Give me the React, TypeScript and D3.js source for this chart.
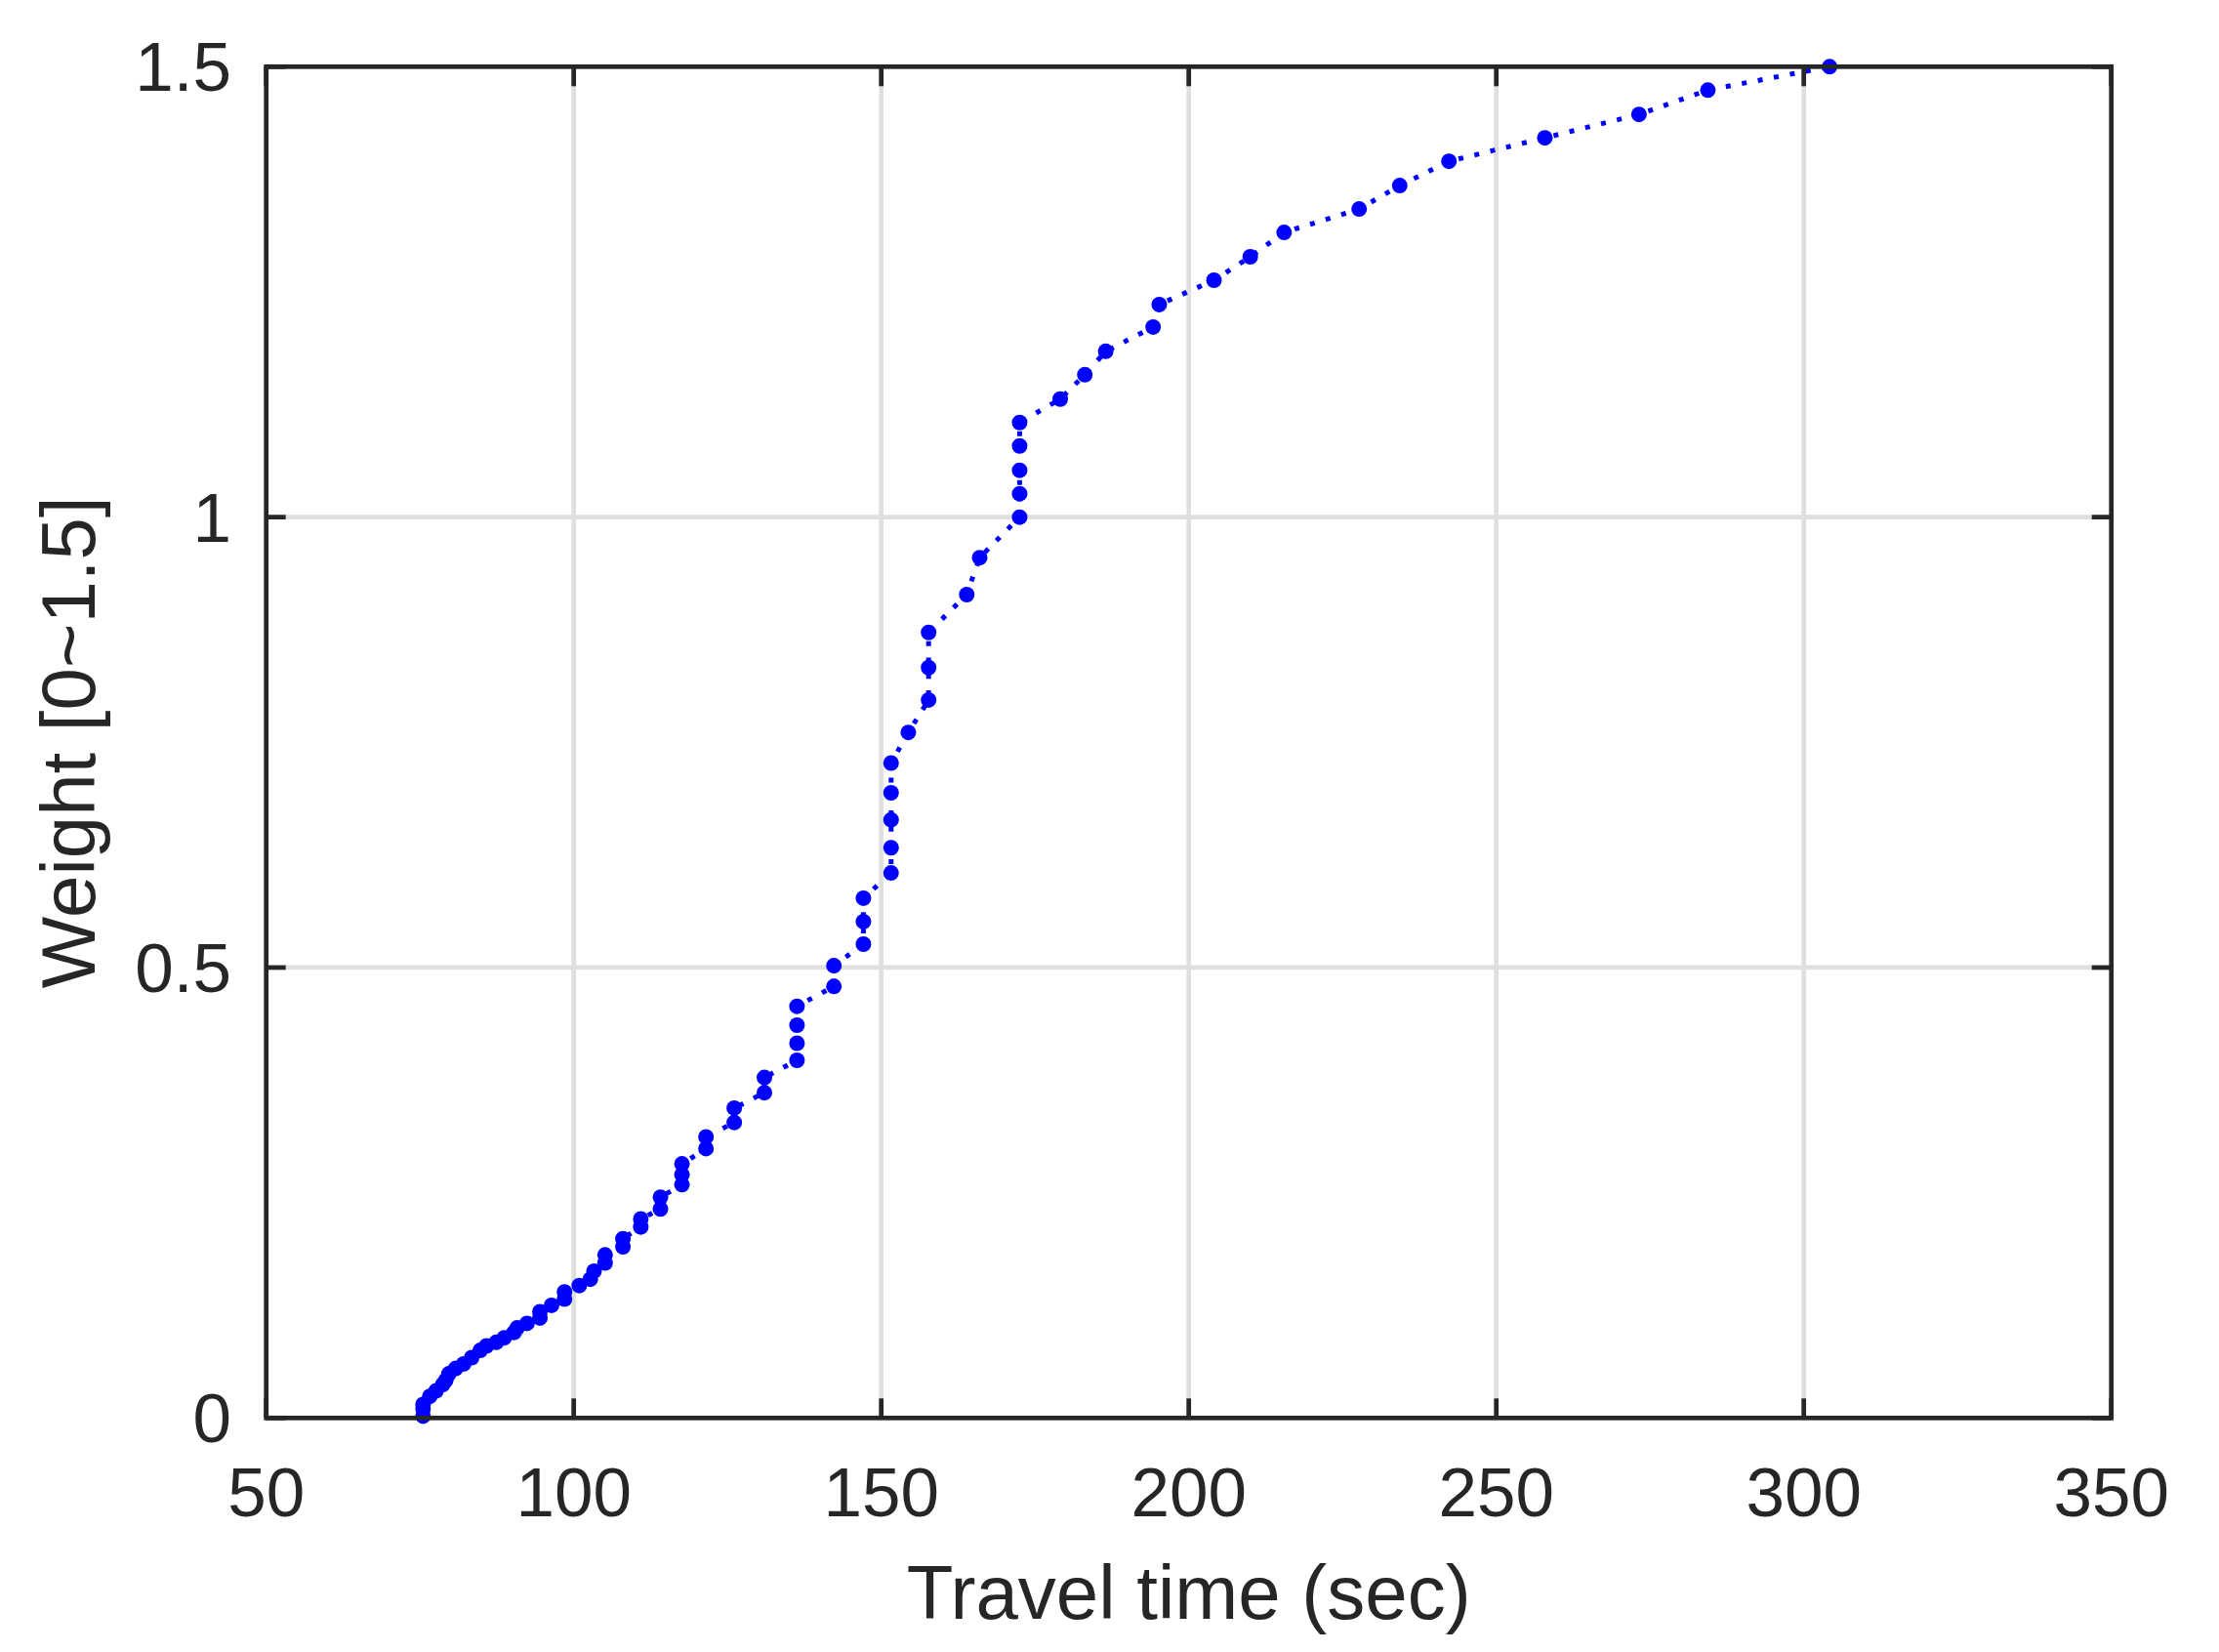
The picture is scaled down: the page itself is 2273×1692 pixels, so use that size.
import * as d3 from 'd3';

// Travel time (sec) of each sample, sorted
const travelTime = [
  75.5, 75.5, 75.5, 76.6, 77.6, 78.7, 79.2, 79.7, 80.8, 82.1,
  83.4, 84.8, 85.8, 87.4, 88.7, 90.3, 90.8, 92.4, 94.5, 94.5,
  96.4, 98.5, 98.5, 100.9, 102.7, 103.3, 105.1, 105.1, 108.0, 108.0,
  110.9, 110.9, 114.1, 114.1, 117.6, 117.6, 117.6, 121.5, 121.5, 126.1,
  126.1, 131.0, 131.0, 136.3, 136.3, 136.3, 136.3, 142.3, 142.3, 147.1,
  147.1, 147.1, 151.6, 151.6, 151.6, 151.6, 151.6, 154.4, 157.7, 157.7,
  157.7, 163.9, 166.0, 172.5, 172.5, 172.5, 172.5, 172.5, 179.1, 183.1,
  186.5, 194.2, 195.2, 204.1, 210.0, 215.5, 227.7, 234.3, 242.3, 257.9,
  273.2, 284.4, 304.2,
];

// Cumulative weight for each sample
const weight = [
  0.002, 0.010, 0.015, 0.024, 0.030, 0.037, 0.042, 0.049, 0.055, 0.060,
  0.067, 0.075, 0.080, 0.084, 0.089, 0.095, 0.100, 0.105, 0.111, 0.118,
  0.125, 0.132, 0.140, 0.147, 0.154, 0.163, 0.172, 0.181, 0.190, 0.199,
  0.212, 0.221, 0.232, 0.245, 0.259, 0.270, 0.282, 0.299, 0.312, 0.328,
  0.344, 0.361, 0.378, 0.397, 0.416, 0.436, 0.457, 0.479, 0.502, 0.526,
  0.551, 0.577, 0.605, 0.633, 0.664, 0.694, 0.727, 0.761, 0.797, 0.833,
  0.872, 0.914, 0.955, 1.000, 1.026, 1.052, 1.079, 1.105, 1.131, 1.158,
  1.184, 1.211, 1.236, 1.263, 1.289, 1.316, 1.342, 1.368, 1.395, 1.421,
  1.447, 1.474, 1.500,
];

const xTicks = [50, 100, 150, 200, 250, 300, 350];
const yTicks = [0, 0.5, 1, 1.5];
const yTickLabels = ['0', '0.5', '1', '1.5'];

const W = 2273;
const H = 1692;
const margin = { left: 272.7, right: W - 2162.7, top: 68.3, bottom: H - 1452.3 };
const axisColor = '#262626';
const font = 'Arial, "Liberation Sans", Helvetica, sans-serif';

export default function App() {
  const x = d3.scaleLinear().domain([50, 350]).range([margin.left, W - margin.right]);
  const y = d3.scaleLinear().domain([0, 1.5]).range([H - margin.bottom, margin.top]);

  const points = travelTime.map((t, i) => ({ t, w: weight[i] }));
  const line = d3
    .line<{ t: number; w: number }>()
    .x(d => x(d.t))
    .y(d => y(d.w));

  const [x0, x1] = x.range();
  const [y0, y1] = y.range();
  const tickLen = 20;

  return (
    <div style={{ position: 'fixed', left: 0, top: 0 }}>
      <svg width={W} height={H} style={{ display: 'block', background: '#fff' }}>
        {/* grid */}
        <g stroke="#dfdfdf" strokeWidth={4.7}>
          {xTicks.slice(1, -1).map(t => (
            <line key={`gx${t}`} x1={x(t)} x2={x(t)} y1={y1} y2={y0} />
          ))}
          {yTicks.slice(1, -1).map(t => (
            <line key={`gy${t}`} x1={x0} x2={x1} y1={y(t)} y2={y(t)} />
          ))}
        </g>

        {/* data */}
        <path
          d={line(points) ?? ''}
          fill="none"
          stroke="#0000ff"
          strokeWidth={5}
          strokeDasharray="5 11.7"
        />
        <g fill="#0000ff">
          {points.map((p, i) => (
            <circle key={i} cx={x(p.t)} cy={y(p.w)} r={8} />
          ))}
        </g>

        {/* box and ticks */}
        <g stroke={axisColor} strokeWidth={4.7} fill="none">
          <rect x={x0} y={y1} width={x1 - x0} height={y0 - y1} />
          {xTicks.map(t => (
            <g key={`tx${t}`}>
              <line x1={x(t)} x2={x(t)} y1={y0} y2={y0 - tickLen} />
              <line x1={x(t)} x2={x(t)} y1={y1} y2={y1 + tickLen} />
            </g>
          ))}
          {yTicks.map(t => (
            <g key={`ty${t}`}>
              <line x1={x0} x2={x0 + tickLen} y1={y(t)} y2={y(t)} />
              <line x1={x1} x2={x1 - tickLen} y1={y(t)} y2={y(t)} />
            </g>
          ))}
        </g>

        {/* tick labels */}
        <g fill={axisColor} fontFamily={font} fontSize={71}>
          {xTicks.map(t => (
            <text key={`lx${t}`} x={x(t)} y={1553} textAnchor="middle">
              {t}
            </text>
          ))}
          {yTicks.map((t, i) => (
            <text key={`ly${t}`} x={237} y={y(t) + 25} textAnchor="end">
              {yTickLabels[i]}
            </text>
          ))}
        </g>

        {/* axis labels */}
        <text
          x={(x0 + x1) / 2}
          y={1658}
          textAnchor="middle"
          fontFamily={font}
          fontSize={78}
          fill={axisColor}
        >
          Travel time (sec)
        </text>
        <text
          transform={`translate(97,${(y0 + y1) / 2}) rotate(-90)`}
          textAnchor="middle"
          fontFamily={font}
          fontSize={78}
          fill={axisColor}
        >
          Weight [0~1.5]
        </text>
      </svg>
    </div>
  );
}
